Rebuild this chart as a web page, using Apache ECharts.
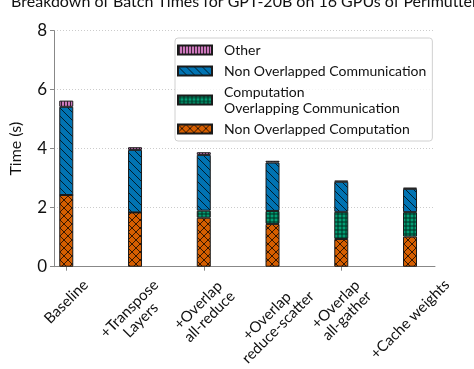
<!DOCTYPE html>
<html>
<head>
<meta charset="utf-8">
<script src="https://cdn.jsdelivr.net/npm/echarts@6/dist/echarts.min.js"></script>
<style>
html,body{margin:0;padding:0;background:#fff;}
#chart{width:474px;height:369px;}
</style>
</head>
<body>
<div id="chart"></div>
<script>
// ---- data ----
var titleText = 'Breakdown of Batch Times for GPT-20B on 16 GPUs of Perlmutter';
var categories = ['Baseline', '+Transpose\nLayers', '+Overlap\nall-reduce', '+Overlap\nreduce-scatter', '+Overlap\nall-gather', '+Cache weights'];
var nonOverlappedComputation = [2.43, 1.84, 1.66, 1.45, 0.94, 1.02];
var overlappingComm = [0, 0, 0.24, 0.44, 0.92, 0.83];
var nonOverlappedComm = [2.99, 2.12, 1.89, 1.64, 1.02, 0.79];
var other = [0.21, 0.09, 0.09, 0.06, 0.04, 0.04];
var yTicks = [0, 2, 4, 6, 8];

var FONT = 'Lato, "Open Sans", sans-serif';

function makePattern(bg, size, draw) {
  var c = document.createElement('canvas');
  c.width = size; c.height = size;
  var ctx = c.getContext('2d');
  ctx.fillStyle = bg;
  ctx.fillRect(0, 0, size, size);
  ctx.strokeStyle = 'rgba(0,0,0,0.75)';
  ctx.lineWidth = 1;
  draw(ctx, size);
  return { image: c, repeat: 'repeat' };
}
function line(ctx, x1, y1, x2, y2) { ctx.beginPath(); ctx.moveTo(x1, y1); ctx.lineTo(x2, y2); ctx.stroke(); }

var patOrange = makePattern('#d55e00', 8, function (ctx, s) {
  line(ctx, -1, -1, s + 1, s + 1);
  line(ctx, s + 1, -1, -1, s + 1);
});
var patBlue = makePattern('#0173b2', 8, function (ctx, s) {
  line(ctx, -1, -1, s + 1, s + 1);
  line(ctx, s - 1, -1, s + 1, 1);
  line(ctx, -1, s - 1, 1, s + 1);
});
var patGreen = makePattern('#029e73', 4, function (ctx, s) {
  ctx.beginPath(); ctx.arc(2, 2, 1.2, 0, Math.PI * 2); ctx.stroke();
});
var patPink = makePattern('#cc78bc', 3, function (ctx, s) {
  line(ctx, 1.5, 0, 1.5, s);
});

var chart = echarts.init(document.getElementById('chart'), null, { renderer: 'canvas' });

function barSeries(name, data, color) {
  return {
    name: name, type: 'bar', stack: 'total', xAxisIndex: 1, yAxisIndex: 1,
    barWidth: 14, data: data,
    itemStyle: { color: color, borderColor: '#1a1a1a', borderWidth: 1 },
    emphasis: { disabled: true }, animation: false
  };
}

var names = ['Non Overlapped Computation', 'Computation\nOverlapping Communication', 'Non Overlapped Communication', 'Other'];

var option = {
  animation: false,
  textStyle: { fontFamily: FONT },
  grid: [
    { left: 42, right: 39, top: 30.7, bottom: 102.3 },
    { left: 31.9, right: 29.6, top: 30.7, bottom: 102.3 }
  ],
  xAxis: [
    { type: 'value', gridIndex: 0, min: 0, max: 1,
      axisLine: { show: true, lineStyle: { color: '#888', width: 1 } },
      axisTick: { show: false }, axisLabel: { show: false }, splitLine: { show: false } },
    { type: 'category', gridIndex: 1, data: categories,
      axisLine: { show: false },
      axisTick: { show: true, alignWithLabel: true, length: 4, lineStyle: { color: '#888' } },
      axisLabel: { show: false }, splitLine: { show: false } }
  ],
  yAxis: [
    { type: 'value', gridIndex: 0, min: 0, max: 8, interval: 2,
      name: 'Time (s)', nameLocation: 'middle', nameGap: 30,
      nameTextStyle: { fontSize: 16, color: '#111', fontFamily: FONT },
      axisLine: { show: true, lineStyle: { color: '#888', width: 1 } },
      axisTick: { show: true, length: 4, lineStyle: { color: '#888' } },
      axisLabel: { fontSize: 17, color: '#111', margin: 7, fontFamily: FONT,
        formatter: function (v) { return yTicks.indexOf(v) >= 0 ? String(v) : ''; } },
      splitLine: { show: true, lineStyle: { color: '#ccc', type: [1, 2], width: 1 } } },
    { type: 'value', gridIndex: 1, min: 0, max: 8, interval: 2, show: false }
  ],
  legend: {
    orient: 'vertical', left: 175, top: 38,
    data: ['Other', 'Non Overlapped Communication', 'Computation\nOverlapping Communication', 'Non Overlapped Computation'],
    icon: 'rect', itemWidth: 34, itemHeight: 9, itemGap: 5,
    padding: [4, 6, 4, 2],
    backgroundColor: 'rgba(255,255,255,0.8)', borderColor: '#d0d0d0', borderWidth: 1, borderRadius: 3,
    textStyle: { fontSize: 14, lineHeight: 16, color: '#111', fontFamily: FONT, padding: [0, 0, 0, 7] },
    selectedMode: false
  },
  series: [
    barSeries(names[0], nonOverlappedComputation, patOrange),
    barSeries(names[1], overlappingComm, patGreen),
    barSeries(names[2], nonOverlappedComm, patBlue),
    barSeries(names[3], other, patPink)
  ]
};
chart.setOption(option);

// title + centred 45-degree category labels (matplotlib style)
var LABEL_SIZE = 15;
var measureCtx = document.createElement('canvas').getContext('2d');
measureCtx.font = LABEL_SIZE + 'px ' + FONT;
var lineH = 16;
var axisY = chart.convertToPixel({ yAxisIndex: 1 }, 0);
var graphics = [];
categories.forEach(function (cat, i) {
  var x = chart.convertToPixel({ xAxisIndex: 1 }, i);
  var lines = cat.split('\n');
  var w = 0;
  lines.forEach(function (l) { w = Math.max(w, measureCtx.measureText(l).width); });
  var h = lines.length * lineH;
  var half = (w + h) / (2 * Math.SQRT2);
  graphics.push({
    type: 'text', x: x, y: axisY + 10 + half, rotation: Math.PI / 4,
    style: { text: cat, fontSize: LABEL_SIZE, lineHeight: lineH, fontFamily: FONT, fill: '#111',
      align: 'center', verticalAlign: 'middle' }
  });
});
var titleX = (chart.convertToPixel({ xAxisIndex: 0 }, 0) + chart.convertToPixel({ xAxisIndex: 0 }, 1)) / 2;
graphics.push({
  type: 'text', x: titleX, y: 10,
  style: { text: titleText, fontSize: 16, fontFamily: FONT, fill: '#111', align: 'center', verticalAlign: 'bottom' }
});
chart.setOption({ graphic: graphics });
</script>
</body>
</html>
